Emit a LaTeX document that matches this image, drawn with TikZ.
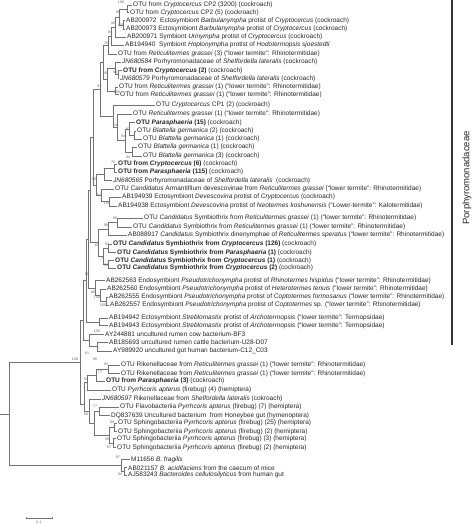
\documentclass[tikz,border=0pt]{standalone}
\usepackage{fontspec}
\setmainfont{Liberation Sans}
\tikzset{
 lab/.style={anchor=west, inner sep=0pt, font=\fontsize{6.5}{8}\selectfont, text=black!85},
 bs/.style={inner sep=0pt, font=\fontsize{3.6}{4}\selectfont, text=black!60},
 br/.style={draw=black!55, line width=0.45pt},
}
\newcommand{\leafnode}[4]{\node[lab] (#1) at (#2,-#3) {#4};}
\newcommand{\inode}[3]{\coordinate (#1) at (#2,-#3);}
\newcommand{\tleaf}[2]{\draw[br] (#1) |- ([xshift=-1.3pt]#2.west);}
\newcommand{\tint}[2]{\draw[br] (#1) |- (#2);}
\newcommand{\boot}[4]{\node[bs] (#1) at (#2,-#3) {#4};}
\newcommand{\lt}{(“lower termite”: Rhinotermitidae)}
\begin{document}
\begin{tikzpicture}[x=1pt,y=1pt]
\fill[white] (0,0) rectangle (474,-524);
\path[use as bounding box] (0,0) rectangle (474,-524);
% leaves
\leafnode{r1}{133}{5}{OTU from \textit{Cryptocercus} CP2 (3200) (cockroach)}
\leafnode{r2}{130}{12.7}{OTU from \textit{Cryptocercus} CP2 (5) (cockroach)}
\leafnode{r3}{126}{20.7}{AB200972 \ Ectosymbiont \textit{Barbulanympha} protist of \textit{Cryptocercus} (cockroach)}
\leafnode{r4}{126}{29}{AB200973 Ectosymbiont \textit{Barbulanympha} protist of \textit{Cryptocercus} (cockroach)}
\leafnode{r5}{127}{37.3}{AB200971 Symbiont \textit{Urinympha} protist of \textit{Cryptocercus} (cockroach)}
\leafnode{r6}{125}{45}{AB194940 \ Symbiont \textit{Hoplonympha} protist of \textit{Hodotermopsis sjoestedti}}
\leafnode{r7}{118}{54}{OTU from \textit{Reticulitermes grassei} (3) \lt}
\leafnode{r8}{122}{62}{\textit{JN680584} Porhyromonadaceae of \textit{Shelfordella lateralis} (cockroach)}
\leafnode{r9}{123}{70.7}{\textbf{OTU from \textit{Cryptocercus} (2)} (cockroach)}
\leafnode{r10}{120}{78.7}{\textit{JN680579} Porhyromonadaceae of \textit{Shelfordella lateralis} (cockroach)}
\leafnode{r11}{119}{87}{OTU from \textit{Reticulitermes grassei} (1) \lt}
\leafnode{r12}{120}{94.7}{OTU from \textit{Reticulitermes grassei} (1) \lt}
\leafnode{r13}{156}{105.3}{OTU \textit{Cryptocercus} CP1 (2) (cockroach)}
\leafnode{r14}{133}{114.3}{OTU \textit{Reticulitermes grassei} (1) \lt}
\leafnode{r15}{136}{122.7}{\textbf{OTU \textit{Parasphaeria} (15)} (cockroach)}
\leafnode{r16}{137}{131}{OTU \textit{Blattella germanica} (2) (cockroach)}
\leafnode{r17}{143}{139.3}{OTU \textit{Blattella germanica} (1) (cockroach)}
\leafnode{r18}{138}{147.3}{OTU \textit{Blattella germanica} (1) (cockroach)}
\leafnode{r19}{143}{156.3}{OTU \textit{Blattella germanica} (3) (cockroach)}
\leafnode{r20}{118}{164}{\textbf{OTU from \textit{Cryptocercus} (6)} (cockroach)}
\leafnode{r21}{118}{172.3}{\textbf{OTU from \textit{Parasphaeria} (115)} (cockroach)}
\leafnode{r22}{113}{180.7}{\textit{JN680565} Porhyromonadaceae of \textit{Shelfordella lateralis} \ (cockroach)}
\leafnode{r23}{115}{189}{OTU \textit{Candidatus} Armantifilum devescovinae from \textit{Reticulitermes grassei} \lt}
\leafnode{r24}{122}{197}{AB194939 Ectosymbiont \textit{Devescovina} protist of \textit{Cryptocercus} (cockroach)}
\leafnode{r25}{118}{206}{AB194938 Ectosymbiont \textit{Devescovina} protist of \textit{Neotermes koshunensis} (“Lower-termite”: Kalotermitidae)}
\leafnode{r26}{144}{218}{OTU \textit{Candidatus} Symbiothrix from \textit{Reticulitermes grassei} (1) \lt}
\leafnode{r27}{133}{227}{OTU \textit{Candidatus} Symbiothrix from \textit{Reticulitermes grassei} (1) \lt}
\leafnode{r28}{128}{235.3}{AB088917 \textit{Candidatus} Symbiothrix dinenymphae of \textit{Reticulitermes speratus} \lt}
\leafnode{r29}{113}{244}{\textbf{OTU \textit{Candidatus} Symbiothrix from \textit{Cryptocercus} (126)} (cockroach)}
\leafnode{r30}{117}{252.7}{\textbf{OTU \textit{Candidatus} Symbiothrix from \textit{Parasphaeria} (1)} (cockroach)}
\leafnode{r31}{115}{260.7}{\textbf{OTU \textit{Candidatus} Symbiothrix from \textit{Cryptocercus} (1)} (cockroach)}
\leafnode{r32}{117}{268.3}{\textbf{OTU \textit{Candidatus} Symbiothrix from \textit{Cryptocercus} (2)} (cockroach)}
\leafnode{r33}{106}{280.7}{AB262563 Endosymbiont \textit{Pseudotrichonympha} protist of \textit{Rhinotermes hispidus} \lt}
\leafnode{r34}{107}{289.3}{AB262560 Endosymbiont \textit{Pseudotrichonympha} protist of \textit{Heterotermes tenuis} \lt}
\leafnode{r35}{109}{297.3}{AB262555 Endosymbiont \textit{Pseudotrichonympha} protist of \textit{Coptotermes formosanus} \lt}
\leafnode{r36}{110}{305.3}{AB262557 Endosymbiont \textit{Pseudotrichonympha} protist of \textit{Coptotermes} sp. \lt}
\leafnode{r37}{109}{318}{AB194942 Ectosymbiont \textit{Streblomastix} protist of \textit{Archotermopsis} (“lower termite”: Termopsidae)}
\leafnode{r38}{109}{325.7}{AB194943 Ectosymbiont \textit{Streblomastix} protist of \textit{Archotermopsis} (“lower termite”: Termopsidae)}
\leafnode{r39}{105}{334}{AY244881 uncultured rumen cow bacterium-BF3}
\leafnode{r40}{109}{342}{AB185693 uncultured rumen cattle bacterium-U28-D07}
\leafnode{r41}{113}{351}{AY989920 uncultured gut human bacterium-C12\_C03}
\leafnode{r42}{121}{365.3}{OTU Rikenellaceae from \textit{Reticulitermes grassei} (1) \lt}
\leafnode{r43}{121}{373.7}{OTU Rikenellaceae from \textit{Reticulitermes grassei} (1) \lt}
\leafnode{r44}{106}{381}{\textbf{OTU from \textit{Parasphaeria} (3)} (cockroach)}
\leafnode{r45}{112}{390}{OTU \textit{Pyrrhcoris apterus} (firebug) (4) (hemiptera)}
\leafnode{r46}{102}{399}{\textit{JN680597} Rikenellaceae from \textit{Shelfordella lateralis} (cokroach)}
\leafnode{r47}{120}{407.3}{OTU Flavobacteriia \textit{Pyrrhcoris apterus} (firebug) (7) (hemiptera)}
\leafnode{r48}{111}{415.7}{DQ837639 Uncultured bacterium \ from Honeybee gut (hymenoptera)}
\leafnode{r49}{118}{423.3}{OTU Sphingobacteriia \textit{Pyrrhcoris apterus} (firebug) (25) (hemiptera)}
\leafnode{r50}{118}{431.7}{OTU Sphingobacteriia \textit{Pyrrhcoris apterus} (firebug) (2) (hemiptera)}
\leafnode{r51}{117}{438.7}{OTU Sphingobacteriia \textit{Pyrrhcoris apterus} (firebug) (3) (hemiptera)}
\leafnode{r52}{117}{447.7}{OTU Sphingobacteriia \textit{Pyrrhcoris apterus} (firebug) (2) (hemiptera)}
\leafnode{r53}{131}{459.7}{M11656 \textit{B. fragilis}}
\leafnode{r54}{128}{467.7}{AB021157 \textit{B. acidifaciens} from the caecum of mice}
\leafnode{r55}{128}{475.3}{AJ583243 \textit{Bacteroides cellulosilyticus} from human gut}
% internal nodes
\inode{n12}{127}{8.85}
\inode{n34}{123}{24.85}
\inode{n1_4}{119}{16.85}
\inode{n1_5}{115}{27.08}
\inode{n1_6}{111}{36.04}
\inode{n1_7}{108}{45.02}
\inode{n910}{118}{74.7}
\inode{n8_10}{115}{68.35}
\inode{n1112}{115}{90.85}
\inode{n8_12}{107}{79.6}
\inode{n1_12}{103}{62.31}
\inode{n1617}{134}{135.15}
\inode{n15_17}{129}{128.93}
\inode{n1819}{132}{151.8}
\inode{n15_19}{125}{140.36}
\inode{n14_19}{117}{127.33}
\inode{n13_19}{113}{116.31}
\inode{n1_19}{100}{89.31}
\inode{nC}{114}{168.15}
\inode{nC22}{104}{174.43}
\inode{n2425}{109}{201.5}
\inode{nD}{101}{195.25}
\inode{nCD}{96}{184.84}
\inode{n1_25}{93}{137.07}
\inode{n2627}{117}{222.5}
\inode{n26_28}{108}{228.9}
\inode{n2930}{108}{248.35}
\inode{n3132}{108}{264.5}
\inode{n29_32}{103}{256.43}
\inode{Symb}{98}{242.66}
\inode{U3}{90}{189.87}
\inode{n3536}{106}{301.3}
\inode{n3436}{100}{295.3}
\inode{Pseudo}{95}{288}
\inode{U2}{88}{238.93}
\inode{Streb}{99}{321.85}
\inode{Upper}{86}{280.39}
\inode{n4041}{97}{346.5}
\inode{Q}{89}{340.25}
\inode{Porph}{83}{320}
\inode{n4243}{108}{369.5}
\inode{n42_44}{96}{375.25}
\inode{n42_45}{87}{382.63}
\inode{n4748}{99}{411.5}
\inode{n4950}{114}{427.5}
\inode{n5152}{113}{443.2}
\inode{n49_52}{109}{435.35}
\inode{n47_52}{94}{423.43}
\inode{n46_52}{89}{411.21}
\inode{Rik}{84}{404}
\inode{Ing}{80}{362}
\inode{n5455}{124}{471.5}
\inode{Bact}{121}{465.6}
\inode{Root}{9}{413.8}
\inode{Stub}{0}{413.8}
% branches
\tleaf{n12}{r1}\tleaf{n12}{r2}
\tleaf{n34}{r3}\tleaf{n34}{r4}
\tint{n1_4}{n12}\tint{n1_4}{n34}
\tint{n1_5}{n1_4}\tleaf{n1_5}{r5}
\tint{n1_6}{n1_5}\tleaf{n1_6}{r6}
\tint{n1_7}{n1_6}\tleaf{n1_7}{r7}
\tleaf{n910}{r9}\tleaf{n910}{r10}
\tleaf{n8_10}{r8}\tint{n8_10}{n910}
\tleaf{n1112}{r11}\tleaf{n1112}{r12}
\tint{n8_12}{n8_10}\tint{n8_12}{n1112}
\tint{n1_12}{n1_7}\tint{n1_12}{n8_12}
\tleaf{n1617}{r16}\tleaf{n1617}{r17}
\tleaf{n15_17}{r15}\tint{n15_17}{n1617}
\tleaf{n1819}{r18}\tleaf{n1819}{r19}
\tint{n15_19}{n15_17}\tint{n15_19}{n1819}
\tleaf{n14_19}{r14}\tint{n14_19}{n15_19}
\tleaf{n13_19}{r13}\tint{n13_19}{n14_19}
\tint{n1_19}{n1_12}\tint{n1_19}{n13_19}
\tleaf{nC}{r20}\tleaf{nC}{r21}
\tint{nC22}{nC}\tleaf{nC22}{r22}
\tleaf{n2425}{r24}\tleaf{n2425}{r25}
\tleaf{nD}{r23}\tint{nD}{n2425}
\tint{nCD}{nC22}\tint{nCD}{nD}
\tint{n1_25}{n1_19}\tint{n1_25}{nCD}
\tleaf{n2627}{r26}\tleaf{n2627}{r27}
\tint{n26_28}{n2627}\tleaf{n26_28}{r28}
\tleaf{n2930}{r29}\tleaf{n2930}{r30}
\tleaf{n3132}{r31}\tleaf{n3132}{r32}
\tint{n29_32}{n2930}\tint{n29_32}{n3132}
\tint{Symb}{n26_28}\tint{Symb}{n29_32}
\tint{U3}{n1_25}\tint{U3}{Symb}
\tleaf{n3536}{r35}\tleaf{n3536}{r36}
\tleaf{n3436}{r34}\tint{n3436}{n3536}
\tleaf{Pseudo}{r33}\tint{Pseudo}{n3436}
\tint{U2}{U3}\tint{U2}{Pseudo}
\tleaf{Streb}{r37}\tleaf{Streb}{r38}
\tint{Upper}{U2}\tint{Upper}{Streb}
\tleaf{n4041}{r40}\tleaf{n4041}{r41}
\tleaf{Q}{r39}\tint{Q}{n4041}
\tint{Porph}{Upper}\tint{Porph}{Q}
\tleaf{n4243}{r42}\tleaf{n4243}{r43}
\tint{n42_44}{n4243}\tleaf{n42_44}{r44}
\tint{n42_45}{n42_44}\tleaf{n42_45}{r45}
\tleaf{n4748}{r47}\tleaf{n4748}{r48}
\tleaf{n4950}{r49}\tleaf{n4950}{r50}
\tleaf{n5152}{r51}\tleaf{n5152}{r52}
\tint{n49_52}{n4950}\tint{n49_52}{n5152}
\tint{n47_52}{n4748}\tint{n47_52}{n49_52}
\tleaf{n46_52}{r46}\tint{n46_52}{n47_52}
\tint{Rik}{n42_45}\tint{Rik}{n46_52}
\tint{Ing}{Porph}\tint{Ing}{Rik}
\tleaf{n5455}{r54}\tleaf{n5455}{r55}
\tleaf{Bact}{r53}\tint{Bact}{n5455}
\tint{Root}{Ing}\tint{Root}{Bact}
\draw[br] (Stub) -- (Root);
% bootstrap values
\boot{b1}{121}{2.7}{100}
\boot{b2}{118}{12.5}{86}
\boot{b3}{121}{25}{100}
\boot{b4}{113}{23}{86}
\boot{b5}{110}{32}{94}
\boot{b6}{106}{43}{76}
\boot{b7}{105}{73}{86}
\boot{b8}{115.5}{72.5}{86}
\boot{b9}{99.5}{86}{92}
\boot{b10}{117}{92}{100}
\boot{b11}{115}{125}{58}
\boot{b12}{128}{129}{97}
\boot{b13}{123}{136}{94}
\boot{b14}{128}{157}{94}
\boot{b15}{113}{162}{76}
\boot{b16}{94}{179}{50}
\boot{b17}{99}{195}{54}
\boot{b18}{107}{203}{100}
\boot{b19}{115}{218}{96}
\boot{b20}{106}{225}{98}
\boot{b21}{107}{244}{93}
\boot{b22}{97}{245}{85}
\boot{b23}{102}{258}{73}
\boot{b24}{106}{265}{83}
\boot{b25}{87}{274}{58}
\boot{b26}{93}{292}{89}
\boot{b27}{97}{297}{100}
\boot{b28}{103}{305}{100}
\boot{b29}{97}{331}{100}
\boot{b30}{87}{353}{91}
\boot{b31}{95}{359}{96}
\boot{b32}{75}{359}{100}
\boot{b33}{106}{364}{91}
\boot{b34}{100}{372}{77}
\boot{b35}{86}{379}{59}
\boot{b36}{95}{406}{77}
\boot{b37}{86}{414}{98}
\boot{b38}{112}{422}{98}
\boot{b39}{107}{439}{98}
\boot{b40}{109}{447}{97}
\boot{b41}{118}{457}{97}
\boot{b42}{120}{474}{84}
% family bar
\coordinate (bar1) at (452,0);
\coordinate (bar2) at (452,-345);
\draw[line width=1.3pt, black!80] (bar1) -- (bar2);
\node[rotate=90, inner sep=0pt, font=\fontsize{9.5}{10}\selectfont, text=black!85] (fam) at (467,-178) {Porphyromonadaceae};
% scale bar
\coordinate (sb1) at (26,-518);
\coordinate (sb2) at (52,-518);
\draw[br] (sb1) -- (sb2);
\draw[br] ([yshift=-1.2pt]sb1) -- ([yshift=1.2pt]sb1);
\draw[br] ([yshift=-1.2pt]sb2) -- ([yshift=1.2pt]sb2);
\node[bs] (sbl) at (39,-521.8) {0.1};
\end{tikzpicture}
\end{document}
